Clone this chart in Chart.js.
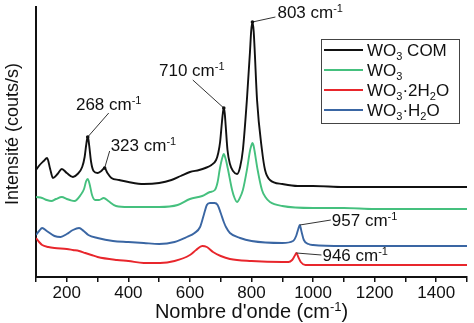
<!DOCTYPE html>
<html>
<head>
<meta charset="utf-8">
<script src="https://cdn.jsdelivr.net/npm/chart.js@4.4.0/dist/chart.umd.min.js"></script>
<style>
  html, body { margin: 0; padding: 0; background: #fff; }
  #wrap { width: 474px; height: 323px; }
</style>
</head>
<body>
<div id="wrap"><canvas id="ramanChart"></canvas></div>
<script>
// Spectres Raman (intensité relative, décalée par échantillon)
const seriesLabels = ['WO₃ COM', 'WO₃', 'WO₃·2H₂O', 'WO₃·H₂O'];
const seriesColors = ['#111111', '#45c07e', '#e8262c', '#3a66a3'];

const comX = [100,112,125,136,146,155,170,184,200,220,235,250,258,263,266,268,270,273,279,287,300,312,323,332,345,370,400,450,500,540,570,600,630,650,670,685,692,698,704,707,710,713,716,722,730,740,753,763,772,785,795,799,803,807,810,818,834,844,860,900,950,1000,1100,1200,1300,1400,1500];
const comY = [107,112,116,119,108,99,103,108,104,100,103,110,120,132,138,140,138,131,115,106,104,106,109,104,99,97,95,93,94,97,101,105,107,109,112,117,124,135,155,164,169,164,152,127,113,106,103,110,127,177,225,246,255,246,229,177,127,107,97,93,91,91,90,90,90,90,90];

const wo3X = [100,120,135,150,165,184,200,210,225,245,256,263,268,274,282,292,305,320,335,360,400,450,500,560,600,640,665,681,690,697,704,707,710,713,717,724,737,745,753,762,772,785,795,799,803,807,810,820,834,845,860,900,1000,1100,1200,1300,1400,1500];
const wo3Y = [80,79,77,76,78,80,78,77,76,82,88,96,98,93,82,77,77,79,76,71,70,70,70,72,78,81,85,87,95,108,118,121,123,121,117,107,87,79,75,79,87,107,126,131,134,131,126,107,87,80,75,71,69,69,68,68,68,68];

const dihydX = [100,110,120,140,160,200,220,240,260,280,300,363,400,450,503,550,600,620,640,655,675,700,730,800,900,920,932,940,946,952,960,975,1000,1100,1200,1300,1400,1500];
const dihydY = [39,35,32,30,29,28,27,26,24,22,20,17,16,14,14,16,22,27,31,30,25,21,18,16,15,15,17,21,24,20,15,12,12,12,12,12,12,12];

const monohydX = [100,110,120,135,160,180,200,220,240,255,270,300,350,400,450,500,550,590,615,633,645,655,665,680,690,700,710,717,730,763,800,900,935,945,952,957,962,970,985,1000,1100,1200,1300,1400,1500];
const monohydY = [42,46,49,46,41,40,43,47,49,46,42,39,36,35,34,33,35,40,44,50,62,72,74,74,72,64,55,50,44,39,36,34,36,41,48,52,46,37,33,32,31,31,31,31,31];

// Pics annotés : position (cm-1) et indice de la série
const peakPositions = [268, 323, 710, 803, 957, 946];
const peakSeries = [0, 0, 0, 0, 3, 2];

const FONT = '"Liberation Sans", Arial, sans-serif';

const xs = [comX, wo3X, dihydX, monohydX];
const ys = [comY, wo3Y, dihydY, monohydY];

function toPoints(xArr, yArr) {
    return xArr.map((x, i) => ({ x: x, y: yArr[i] }));
}

// texte avec indices / exposants
const SUB = {'₀':'0','₁':'1','₂':'2','₃':'3','₄':'4','₅':'5','₆':'6','₇':'7','₈':'8','₉':'9'};
const SUP = {'⁻':'-','¹':'1','²':'2','³':'3'};

function splitRuns(text) {
    const out = [];
    for (const ch of text) {
        let kind = 'n', c = ch;
        if (SUB[ch]) { kind = 'sub'; c = SUB[ch]; }
        else if (SUP[ch]) { kind = 'sup'; c = SUP[ch]; }
        const last = out[out.length - 1];
        if (last && last.kind === kind) last.t += c;
        else out.push({ kind: kind, t: c });
    }
    return out;
}

function richText(ctx, text, x, baseline, size, align) {
    const parts = splitRuns(text);
    const fontOf = k => (k === 'n' ? size : Math.round(size * 0.66)) + 'px ' + FONT;
    let w = 0;
    parts.forEach(p => { ctx.font = fontOf(p.kind); p.w = ctx.measureText(p.t).width; w += p.w; });
    let cx = align === 'center' ? x - w / 2 : (align === 'right' ? x - w : x);
    ctx.textAlign = 'left';
    ctx.textBaseline = 'alphabetic';
    parts.forEach(p => {
        ctx.font = fontOf(p.kind);
        const dy = p.kind === 'sub' ? size * 0.24 : (p.kind === 'sup' ? -size * 0.36 : 0);
        ctx.fillText(p.t, cx, baseline + dy);
        cx += p.w;
    });
}

// décalages des étiquettes de pics (px) : fin du trait, position du texte
const leaderStyle = {
    268: { ex: 21, ey: -24, tx: 21, ty: -33, align: 'center' },
    323: { ex: 5, ey: -17, tx: 6, ty: -23, align: 'left' },
    710: { ex: -31, ey: -28, tx: -32, ty: -38, align: 'center' },
    803: { ex: 23, ey: -5, tx: 25, ty: -10, align: 'left' },
    957: { ex: 31, ey: -5, tx: 32, ty: -5, align: 'left' },
    946: { ex: 25, ey: 2, tx: 26, ty: 2, align: 'left' }
};

const decorPlugin = {
    id: 'decor',
    afterDatasetsDraw(chart) {
        const ctx = chart.ctx;
        const xScale = chart.scales.x;
        const yScale = chart.scales.y;
        const area = chart.chartArea;
        ctx.save();

        // annotations des pics
        peakPositions.forEach((pos, i) => {
            const s = peakSeries[i];
            const idx = xs[s].indexOf(pos);
            const px = xScale.getPixelForValue(pos);
            const py = yScale.getPixelForValue(ys[s][idx]);
            const st = leaderStyle[pos];
            ctx.strokeStyle = '#333';
            ctx.lineWidth = 1;
            ctx.beginPath();
            ctx.moveTo(px, py);
            ctx.lineTo(px + st.ex, py + st.ey);
            ctx.stroke();
            if (s === 0) {
                ctx.fillStyle = '#111';
                ctx.beginPath();
                ctx.arc(px, py, 1.8, 0, Math.PI * 2);
                ctx.fill();
            }
            ctx.fillStyle = '#111';
            richText(ctx, pos + ' cm⁻¹', px + st.tx, py + st.ty + 6, 17, st.align);
        });

        // légende
        const bx = area.right - 146, by = area.top + 32, bw = 138, bh = 84;
        ctx.fillStyle = '#fff';
        ctx.fillRect(bx, by, bw, bh);
        ctx.strokeStyle = '#444';
        ctx.lineWidth = 1;
        ctx.strokeRect(bx + 0.5, by + 0.5, bw, bh);
        seriesLabels.forEach((lab, i) => {
            const ry = by + 11 + i * 20;
            ctx.strokeStyle = seriesColors[i];
            ctx.lineWidth = 1.8;
            ctx.beginPath();
            ctx.moveTo(bx + 3, ry);
            ctx.lineTo(bx + 42, ry);
            ctx.stroke();
            ctx.fillStyle = '#111';
            richText(ctx, lab, bx + 46, ry + 6, 17, 'left');
        });

        // titres des axes
        ctx.fillStyle = '#111';
        richText(ctx, "Nombre d'onde (cm⁻¹)", (area.left + area.right) / 2, 318, 20, 'center');
        ctx.translate(18, (area.top + area.bottom) / 2 - 8);
        ctx.rotate(-Math.PI / 2);
        richText(ctx, 'Intensité (couts/s)', 0, 0, 18, 'center');
        ctx.restore();
    }
};

const ramanConfig = {
    type: 'line',
    data: {
        datasets: seriesLabels.map((lab, i) => ({
            label: lab,
            data: toPoints(xs[i], ys[i]),
            borderColor: seriesColors[i],
            borderWidth: 1.9,
            pointRadius: 0,
            fill: false,
            cubicInterpolationMode: 'monotone'
        }))
    },
    options: {
        responsive: true,
        maintainAspectRatio: false,
        animation: false,
        devicePixelRatio: 1,
        layout: { padding: { top: 7, right: 7, left: 0, bottom: 0 } },
        plugins: {
            legend: { display: false },
            tooltip: { enabled: false }
        },
        scales: {
            x: {
                type: 'linear',
                min: 100,
                max: 1500,
                afterFit: function(scale) { scale.height = 46; },
                ticks: {
                    stepSize: 100,
                    autoSkip: false,
                    maxRotation: 0,
                    padding: 1,
                    color: '#111',
                    font: { family: FONT, size: 17 },
                    callback: function(v) { return v % 200 === 0 ? v : ''; }
                },
                grid: {
                    drawOnChartArea: false,
                    drawTicks: true,
                    tickLength: 5,
                    color: '#111',
                    lineWidth: 1.5
                },
                border: { display: true, color: '#111', width: 2 }
            },
            y: {
                type: 'linear',
                min: 0,
                max: 270,
                afterFit: function(scale) { scale.width = 36; },
                ticks: { display: false },
                grid: { display: false },
                border: { display: true, color: '#111', width: 2 }
            }
        }
    },
    plugins: [decorPlugin]
};

const ramanCtx = document.getElementById('ramanChart').getContext('2d');
const ramanChart = new Chart(ramanCtx, ramanConfig);
</script>
</body>
</html>
